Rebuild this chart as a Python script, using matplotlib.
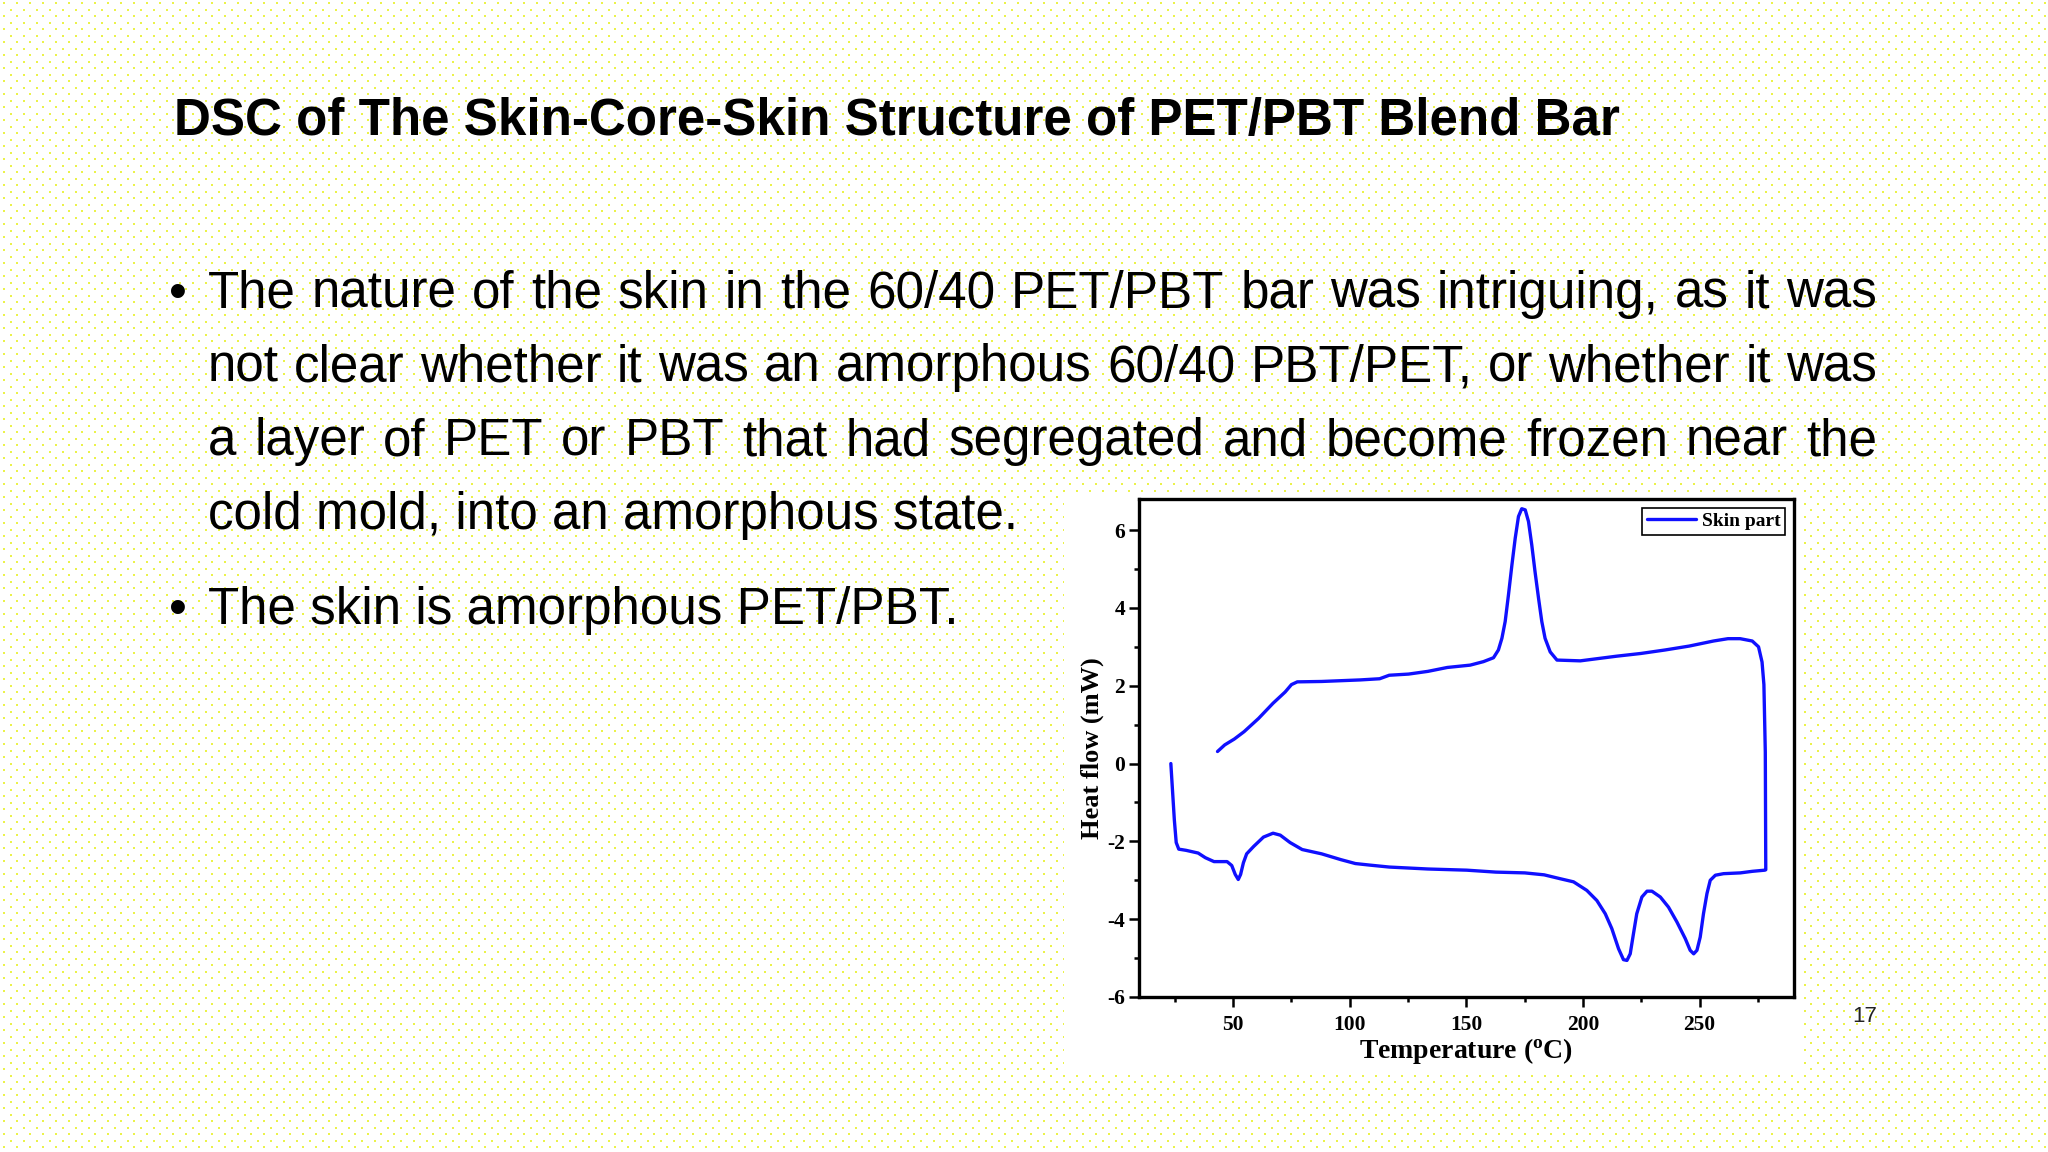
import numpy as np
import matplotlib
matplotlib.use("Agg")
import matplotlib.pyplot as plt
from matplotlib import font_manager as fm
from matplotlib.patches import Rectangle
from matplotlib.ticker import MultipleLocator

# ---------------- data ----------------
heat_T = [23.4, 24.1, 24.9, 25.7, 26.8, 29.9, 35.1, 38.2, 41.9, 47.5, 49.5, 51.0, 52.3,
          53.3, 54.5, 55.9, 58.9, 63.1, 67.2, 70.3, 74.5, 79.7, 88.0, 96.3, 102.5, 108.7,
          117.0, 133.6, 150.2, 162.7, 175.1, 183.4, 190.3, 196.0, 201.7, 206.0, 209.6,
          212.4, 215.3, 217.4, 218.9, 220.3, 221.7, 223.1, 225.3, 227.5, 229.6, 233.2,
          236.7, 240.3, 243.9, 246.0, 247.5, 248.9, 250.3, 251.7, 253.2, 254.6, 256.8,
          260.3, 267.5, 272.6, 278.0]
heat_Q = [0.0, -0.68, -1.45, -2.03, -2.20, -2.23, -2.30, -2.42, -2.52, -2.52, -2.62, -2.85, -2.98,
          -2.85, -2.55, -2.32, -2.13, -1.89, -1.79, -1.84, -2.03, -2.21, -2.32, -2.47, -2.57, -2.61,
          -2.66, -2.71, -2.74, -2.79, -2.81, -2.86, -2.96, -3.04, -3.26, -3.52, -3.86,
          -4.24, -4.76, -5.04, -5.06, -4.89, -4.37, -3.86, -3.43, -3.28, -3.28, -3.43,
          -3.69, -4.07, -4.50, -4.80, -4.89, -4.80, -4.46, -3.86, -3.34, -3.00, -2.87,
          -2.83, -2.81, -2.77, -2.74]
cool_T = [278.4, 278.2, 277.6, 276.8, 275.3, 272.6, 267.4, 262.2, 256.0, 245.6, 235.3, 224.9,
          214.5, 204.1, 198.9, 188.9, 186.0, 183.8, 182.4, 181.0, 179.5, 178.1, 176.7, 175.3,
          173.8, 172.4, 171.0, 169.6, 168.1, 166.7, 165.3, 163.8, 161.7, 157.4, 151.7, 141.9,
          133.6, 125.3, 117.0, 112.9, 104.6, 96.3, 88.0, 77.6, 75.1, 72.4, 67.2, 61.0, 54.8,
          50.6, 46.5, 43.4]
cool_Q = [-2.73, 0.29, 2.03, 2.61, 3.00, 3.15, 3.21, 3.21, 3.15, 3.02, 2.92, 2.83,
          2.76, 2.68, 2.64, 2.66, 2.87, 3.22, 3.65, 4.25, 4.93, 5.62, 6.22, 6.52,
          6.55, 6.35, 5.79, 5.11, 4.33, 3.65, 3.22, 2.92, 2.72, 2.62, 2.53, 2.47,
          2.37, 2.30, 2.27, 2.18, 2.15, 2.13, 2.11, 2.10, 2.03, 1.84, 1.55, 1.16, 0.82,
          0.63, 0.48, 0.31]
series_label = "Skin part"
x_ticks = [50, 100, 150, 200, 250]
y_ticks = [-6, -4, -2, 0, 2, 4, 6]

title_text = "DSC of The Skin-Core-Skin Structure of PET/PBT Blend Bar"
para1_lines = [
    "The nature of the skin in the 60/40 PET/PBT bar was intriguing, as it was",
    "not clear whether it was an amorphous 60/40 PBT/PET, or whether it was",
    "a layer of PET or PBT that had segregated and become frozen near the",
    "cold mold, into an amorphous state.",
]
para2_lines = ["The skin is amorphous PET/PBT."]
page_no = "17"

# ---------------- fonts ----------------
def has_font(name):
    try:
        fm.findfont(fm.FontProperties(family=name), fallback_to_default=False)
        return True
    except Exception:
        return False

NARROW = has_font("Liberation Sans Narrow")
SANS = "Liberation Sans Narrow" if NARROW else "Liberation Sans"
SERIF = "Liberation Serif"

plt.rcParams["axes.unicode_minus"] = False
plt.rcParams["mathtext.fontset"] = "custom"
plt.rcParams["mathtext.rm"] = "Liberation Serif:bold"
plt.rcParams["mathtext.bf"] = "Liberation Serif:bold"
plt.rcParams["mathtext.it"] = "Liberation Serif:bold"

W, H = 2048, 1152
fig = plt.figure(figsize=(W / 100, H / 100), dpi=100)
fig.patch.set_facecolor("white")
renderer = fig.canvas.get_renderer()

# ---------------- dotted slide background ----------------
bg = fig.add_axes([0, 0, 1, 1])
bg.set_xlim(0, W)
bg.set_ylim(H, 0)
bg.axis("off")
step = 13.0
xs, ys = [], []
for i, yy in enumerate(np.arange(3, H + step, step / 2)):
    off = 0 if i % 2 == 0 else step / 2
    xx = np.arange(4 + off, W + step, step)
    xs.append(xx)
    ys.append(np.full_like(xx, yy))
xs = np.concatenate(xs)
ys = np.concatenate(ys)
bg.scatter(xs, ys, s=2.8, marker="s", c="#ebf24a", linewidths=0, zorder=1)
bg.add_patch(Rectangle((1064, 494), 738, 580, facecolor="white", edgecolor="none", zorder=2))

def px(x, y):
    return x / W, 1 - y / H

def text_width(s, size, weight="normal", family=SANS):
    t = fig.text(0, 0, s, fontsize=size, family=family, fontweight=weight)
    bb = t.get_window_extent(renderer)
    t.remove()
    return bb.width

# ---------------- title ----------------
title_left, title_right = 174.0, 1620.0
ts = 36.0 * (title_right - title_left) / text_width(title_text, 36.0, "bold")
fig.text(*px(title_left, 135), title_text, fontsize=ts, fontweight="bold",
         family=SANS, ha="left", va="baseline", color="black")

# ---------------- justified bullet text ----------------
left_x, right_x = 207.7, 1877.0
body_size = 32.0 * (right_x - left_x) * 0.985 / text_width(para1_lines[0], 32.0)

def draw_line(line, y, size, justify):
    words = line.split(" ")
    if not justify:
        fig.text(*px(left_x, y), line, fontsize=size, family=SANS, ha="left", va="baseline")
        return
    widths = [text_width(w, size) for w in words]
    gap = (right_x - left_x - sum(widths)) / (len(words) - 1)
    x = left_x
    for w, wd in zip(words, widths):
        fig.text(*px(x, y), w, fontsize=size, family=SANS, ha="left", va="baseline")
        x += wd + gap

baselines1 = [308, 381.5, 455, 528.5]
for k, (ln, yb) in enumerate(zip(para1_lines, baselines1)):
    draw_line(ln, yb, body_size, justify=(k < len(para1_lines) - 1))
fig.text(*px(177.6, 308), "\u2022", fontsize=body_size, family="Liberation Sans",
         ha="center", va="baseline")
draw_line(para2_lines[0], 624, body_size, justify=False)
fig.text(*px(177.6, 624), "\u2022", fontsize=body_size, family="Liberation Sans",
         ha="center", va="baseline")

fig.text(*px(1865, 1016), page_no, fontsize=16, family="Liberation Sans",
         ha="center", va="center", color="#222222")

# ---------------- DSC chart ----------------
ax = fig.add_axes([1139 / W, 1 - 997 / H, (1794 - 1139) / W, (997 - 499) / H])
ax.set_zorder(3)
ax.set_facecolor("white")
ax.plot(heat_T + cool_T, heat_Q + cool_Q, color="#1010ff", lw=2.4, label=series_label,
        solid_joinstyle="round", solid_capstyle="round")
ax.set_xlim(9.75, 290.5)
ax.set_ylim(-6, 6.8)
ax.set_xticks(x_ticks)
ax.set_yticks(y_ticks)
ax.xaxis.set_minor_locator(MultipleLocator(25))
ax.yaxis.set_minor_locator(MultipleLocator(1))
for sp in ax.spines.values():
    sp.set_linewidth(2.4)
ax.tick_params(which="both", direction="out", top=False, right=False, width=1.8)
ax.tick_params(which="major", length=7)
ax.tick_params(axis="x", which="major", pad=6)
ax.tick_params(axis="y", which="major", pad=3)
ax.tick_params(which="minor", length=3.5)
for lab in ax.get_xticklabels() + ax.get_yticklabels():
    lab.set_fontfamily(SERIF)
    lab.set_fontweight("bold")
    lab.set_fontsize(15.5)
ax.set_xlabel(r"Temperature ($^{\mathrm{o}}$C)", family=SERIF, fontweight="bold",
              fontsize=20, labelpad=1)
ax.set_ylabel("Heat flow (mW)", family=SERIF, fontweight="bold", fontsize=19, labelpad=2)
leg = ax.legend(loc="upper right", prop={"family": SERIF, "weight": "bold", "size": 14},
                frameon=True, fancybox=False, edgecolor="black", framealpha=1,
                handlelength=2.5, handletextpad=0.3, borderpad=0.25,
                borderaxespad=0.45)
leg.get_frame().set_linewidth(1.2)

fig.savefig("out.png", dpi=100, facecolor="white")
